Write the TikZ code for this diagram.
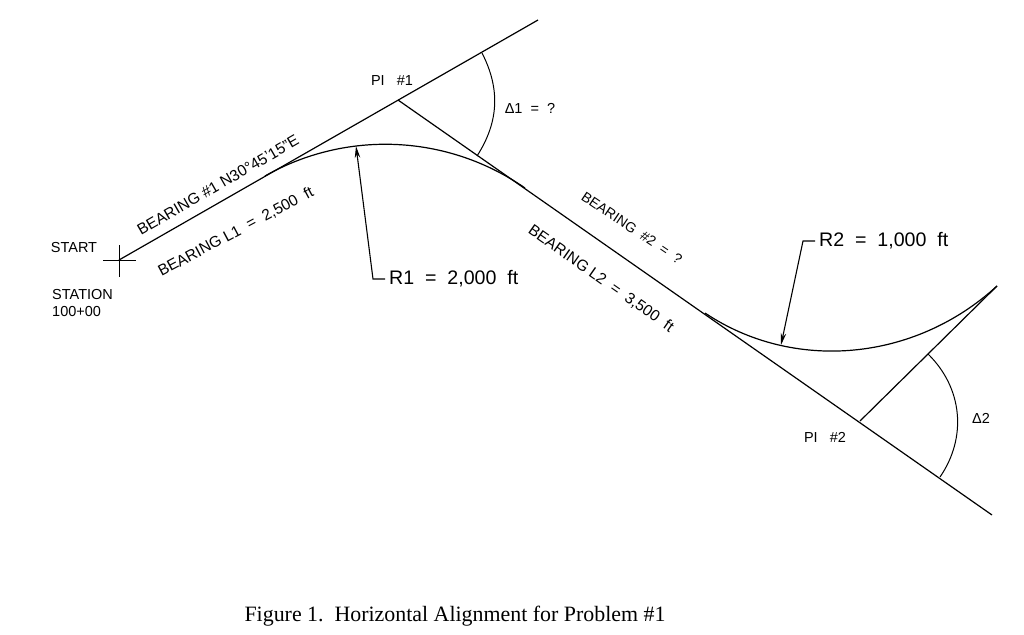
\documentclass[tikz,border=0pt]{standalone}
\usepackage{fontspec}
\setmainfont{Liberation Sans}
\newfontfamily\capfont{Liberation Serif}
\usetikzlibrary{arrows.meta}
\begin{document}
\begin{tikzpicture}[x=1pt,y=-1pt]
	\tikzstyle{alignment}=[draw, line width=1.2pt]
	\tikzstyle{thinline}=[draw, line width=1pt]
	\tikzstyle{leader}=[draw, line width=1.1pt, -{Stealth[length=12pt,width=5.5pt]}]
	\tikzstyle{small}=[inner sep=0pt, font=\fontsize{14.5pt}{17pt}\selectfont]
	\tikzstyle{slanted}=[inner sep=0pt, font=\fontsize{15.5pt}{18pt}\selectfont]
	\tikzstyle{dim}=[inner sep=4pt, font=\fontsize{19.6pt}{22pt}\selectfont]
	\useasboundingbox (0,0) rectangle (1024,634);
	% points of the alignment
	\coordinate (start) at (119,260);
	\coordinate (pi1) at (398,100);
	\coordinate (end1) at (538,20);
	\coordinate (pi2) at (860,421);
	\coordinate (end2) at (992,515);
	\coordinate (end3) at (997,286);
	\coordinate (pc1) at (265,176);
	\coordinate (pt1) at (525,188);
	\coordinate (pc2) at (705,313);
	% cross
	\coordinate (crossw) at (103,260);
	\coordinate (crosse) at (136,260);
	\coordinate (crossn) at (119,245);
	\coordinate (crosss) at (119,277);
	\draw[thinline] (crossw) -- (crosse);
	\draw[thinline] (crossn) -- (crosss);
	% tangents
	\draw[alignment] (start) -- (end1);
	\draw[alignment] (pi1) -- (end2);
	\draw[alignment] (pi2) -- (end3);
	% curves
	\draw[alignment] (pc1) .. controls (346,130) and (447,134) .. (pt1);
	\draw[alignment] (pc2) .. controls (793,372) and (914,362) .. (end3);
	% delta arcs
	\coordinate (a1s) at (482,53);
	\coordinate (a1e) at (477,156);
	\coordinate (a2s) at (928,354);
	\coordinate (a2e) at (940,477);
	\draw[thinline] (a1s) to[bend left=30] (a1e);
	\draw[thinline] (a2s) to[bend left=40] (a2e);
	% labels
	\node [small] (startlbl) at (74,248) {START};
	\node [small, align=left, anchor=north west] (station) at (52,289) {STATION\\100+00};
	\node [small] (pi1lbl) at (392,81) {PI\ \ \ \#1};
	\node [small] (pi2lbl) at (825,437) {PI\ \ \ \#2};
	\node [small] (delta1) at (530,108) {Δ1\ \ =\ \ ?};
	\node [small] (delta2) at (981,418) {Δ2};
	\node [slanted, rotate=30] (brg1) at (218,185) {BEARING \#1 N30°45'15"E};
	\node [slanted, rotate=28] (len1) at (236,232) {BEARING L1\ \ =\ \ 2,500\ \ ft};
	\node [slanted, rotate=-34, font=\fontsize{14pt}{17pt}\selectfont] (brg2) at (632,228) {BEARING\ \ \#2\ \ =\ \ ?};
	\node [slanted, rotate=-35] (len2) at (601,279) {BEARING L2\ \ =\ \ 3,500\ \ ft};
	\node [dim, anchor=west] (r1lbl) at (385,279) {R1\ \ =\ \ 2,000\ \ ft};
	\node [dim, anchor=west] (r2lbl) at (815,241) {R2\ \ =\ \ 1,000\ \ ft};
	% radius leaders
	\coordinate (r1elbow) at (373,279);
	\coordinate (r1tip) at (356,146);
	\coordinate (r2elbow) at (803,241);
	\coordinate (r2tip) at (781,345);
	\draw[leader] (r1lbl.west) -- (r1elbow) -- (r1tip);
	\draw[leader] (r2lbl.west) -- (r2elbow) -- (r2tip);
	\node [inner sep=0pt, font=\capfont\fontsize{21.9pt}{24pt}\selectfont] (caption) at (455,616) {Figure 1.\ \ Horizontal Alignment for Problem \#1};
\end{tikzpicture}
\end{document}
